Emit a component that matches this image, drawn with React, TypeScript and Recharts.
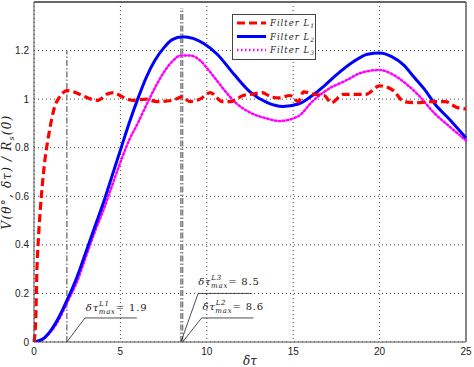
import { LineChart, Line, XAxis, YAxis, CartesianGrid, ReferenceLine, ReferenceDot, Legend } from 'recharts';

// #region Sample data
const tauL1 = [0, 0.05, 0.1, 0.17, 0.25, 0.35, 0.5, 0.65, 0.8, 1.0, 1.2, 1.4, 1.6, 1.9, 2.3, 2.8, 3.3, 3.7, 4.2, 4.6, 5.1, 5.7, 6.5, 7.1, 8.0, 8.6, 9.0, 9.6, 10.2, 10.9, 11.4, 12.1, 12.6, 13.2, 13.7, 14.2, 14.8, 15.3, 15.6, 16.2, 16.8, 17.2, 17.9, 18.7, 19.2, 20.0, 20.8, 21.4, 22.1, 23.1, 23.8, 24.5, 25];
const valL1 = [0, 0.03, 0.09, 0.3, 0.42, 0.53, 0.66, 0.76, 0.83, 0.91, 0.97, 1.0, 1.02, 1.035, 1.03, 1.015, 1.0, 0.995, 1.02, 1.027, 1.01, 0.995, 1.0, 0.99, 0.995, 1.01, 0.99, 1.0, 1.027, 0.99, 0.99, 1.015, 1.02, 1.027, 1.01, 1.005, 1.015, 0.99, 1.03, 1.02, 1.015, 0.985, 1.02, 1.02, 1.02, 1.055, 1.035, 0.99, 0.985, 0.99, 0.99, 0.965, 0.96];

const tauL2 = [0, 0.5, 1, 1.5, 1.9, 2.5, 3, 3.5, 4, 4.5, 5, 5.5, 6, 6.5, 7, 7.5, 8, 8.6, 9.2, 9.8, 10.6, 11.6, 12.5, 13.5, 14.4, 15.3, 16.1, 16.8, 17.5, 18.5, 19.3, 20, 20.7, 21.4, 22, 22.6, 23.2, 24, 25];
const valL2 = [0, 0.012, 0.05, 0.11, 0.17, 0.27, 0.37, 0.47, 0.57, 0.68, 0.79, 0.9, 1.0, 1.09, 1.16, 1.21, 1.245, 1.257, 1.25, 1.23, 1.185, 1.1, 1.03, 0.986, 0.97, 0.98, 1.015, 1.055, 1.1, 1.155, 1.185, 1.19, 1.175, 1.14, 1.09, 1.04, 0.98, 0.92, 0.84];

const tauL3 = [0, 0.5, 1, 1.5, 1.9, 2.5, 3, 3.5, 4, 4.5, 5, 5.5, 6, 6.6, 7.1, 7.6, 8, 8.5, 9.0, 9.6, 10.1, 10.6, 11.1, 11.6, 12.5, 13.5, 14.2, 15.3, 16.1, 17, 18, 19, 20, 20.8, 21.5, 22.2, 23.2, 24, 25];
const valL3 = [0, 0.01, 0.045, 0.1, 0.16, 0.25, 0.35, 0.45, 0.54, 0.64, 0.74, 0.83, 0.9, 0.99, 1.06, 1.12, 1.155, 1.18, 1.18, 1.16, 1.12, 1.075, 1.03, 0.99, 0.945, 0.92, 0.91, 0.93, 0.99, 1.04, 1.075, 1.11, 1.12, 1.1, 1.065, 1.02, 0.94, 0.89, 0.83];

const seriesSubs = ['1', '2', '3'];
const tauMaxL1 = 1.9;
const tauMaxL3 = 8.5;
const tauMaxL2 = 8.6;

const xTicks = [0, 5, 10, 15, 20, 25];
const yTicks = [0, 0.2, 0.4, 0.6, 0.8, 1, 1.2];
// #endregion

const toPoints = (xs: number[], ys: number[]) => xs.map((x, i) => ({ x, y: ys[i] }));
const dataL1 = toPoints(tauL1, valL1);
const dataL2 = toPoints(tauL2, valL2);
const dataL3 = toPoints(tauL3, valL3);

const serif = '"DejaVu Serif", "Liberation Serif", serif';
const sans = '"Liberation Sans", Arial, sans-serif';

const styles = [
  { color: '#ff0000', dash: '8 4', width: 3.2 },
  { color: '#0000ff', dash: undefined, width: 3 },
  { color: '#ff00ff', dash: '1.5 2.5', width: 2.5 },
];

const renderLegend = () => (
  <svg width={84} height={46} style={{ display: 'block' }}>
    <rect x={0.5} y={0.5} width={83} height={45} fill="#fff" stroke="#444" />
    {seriesSubs.map((s, i) => {
      const y = 9 + i * 13.5;
      return (
        <g key={s}>
          <line x1={5} x2={34} y1={y} y2={y} stroke={styles[i].color} strokeWidth={styles[i].width} strokeDasharray={styles[i].dash} />
          <text x={38} y={y + 3} fontSize={8.5} fontStyle="italic" fontFamily={serif} letterSpacing={1} fill="#222">
            Filter L<tspan fontSize={6} dy={2}>{s}</tspan>
          </text>
        </g>
      );
    })}
  </svg>
);

const Annot = ({ cx, cy, sup, value }: any) => (
  <text x={cx} y={cy} fontSize={10} fontFamily={serif} fill="#222" letterSpacing={0.8}>
    <tspan fontStyle="italic">δτ</tspan>
    <tspan fontSize={7} dy={-5} fontStyle="italic">{sup}</tspan>
    <tspan fontSize={7} dx={-11} dy={8} fontStyle="italic">max</tspan>
    <tspan dy={-3}>= {value}</tspan>
  </text>
);

const YLabel = ({ viewBox }: any) => {
  const cy = viewBox.y + viewBox.height / 2;
  return (
    <text x={11} y={cy} transform={`rotate(-90 11 ${cy})`} textAnchor="middle" fontSize={12} fontStyle="italic" fontFamily={serif} letterSpacing={1.2} fill="#222">
      V̄(θ°, δτ) / R<tspan fontSize={8} dy={3}>s</tspan><tspan dy={-3}>(0)</tspan>
    </text>
  );
};

const XLabel = ({ viewBox }: any) => (
  <text x={viewBox.x + viewBox.width / 2} y={365} textAnchor="middle" fontSize={12} fontStyle="italic" fontFamily={serif} fill="#222">
    δτ
  </text>
);

const gray = '#808080';
const guide = '6 2 1.5 2';

const App = () => {
  return (
    <div style={{ position: 'absolute', left: 0, top: 0, background: '#fff' }}>
      <LineChart width={474} height={367} margin={{ top: 2, right: 8, bottom: 0, left: 0 }}>
        <CartesianGrid stroke="#444" strokeDasharray="1 3" />
        <XAxis
          dataKey="x"
          type="number"
          domain={[0, 25]}
          ticks={xTicks}
          height={25}
          tickSize={0}
          tickMargin={6}
          stroke="#555"
          tick={{ fill: '#222', fontSize: 10, fontFamily: sans }}
          label={XLabel}
        />
        <YAxis
          type="number"
          domain={[0, 1.4]}
          ticks={yTicks}
          width={34}
          tickSize={0}
          tickMargin={5}
          stroke="#555"
          allowDataOverflow
          tick={{ fill: '#222', fontSize: 10, fontFamily: sans }}
          label={YLabel}
        />
        <ReferenceLine y={1.4} stroke="#666" strokeWidth={2} />
        <ReferenceLine x={25} stroke="#666" strokeWidth={1.5} />
        <ReferenceLine segment={[{ x: tauMaxL1, y: 0 }, { x: tauMaxL1, y: 1.2 }]} stroke={gray} strokeWidth={1.5} strokeDasharray={guide} />
        <ReferenceLine segment={[{ x: tauMaxL3, y: 0 }, { x: tauMaxL3, y: 1.375 }]} stroke={gray} strokeWidth={1.5} strokeDasharray={guide} />
        <ReferenceLine segment={[{ x: tauMaxL2, y: 0 }, { x: tauMaxL2, y: 1.375 }]} stroke={gray} strokeWidth={1.5} strokeDasharray={guide} />

        <Line data={dataL3} dataKey="y" type="monotone" stroke={styles[2].color} strokeWidth={styles[2].width} strokeDasharray={styles[2].dash} strokeLinecap="round" dot={false} isAnimationActive={false} name="Filter L3" />
        <Line data={dataL2} dataKey="y" type="monotone" stroke={styles[1].color} strokeWidth={styles[1].width} dot={false} isAnimationActive={false} name="Filter L2" />
        <Line data={dataL1} dataKey="y" type="monotone" stroke={styles[0].color} strokeWidth={styles[0].width} strokeDasharray={styles[0].dash} dot={false} isAnimationActive={false} name="Filter L1" />

        {/* leaders for the max annotations */}
        <ReferenceLine segment={[{ x: tauMaxL1, y: 0 }, { x: 2.95, y: 0.099 }]} stroke="#222" strokeWidth={0.8} />
        <ReferenceLine segment={[{ x: 2.95, y: 0.099 }, { x: 5.95, y: 0.099 }]} stroke="#222" strokeWidth={0.8} />
        <ReferenceLine segment={[{ x: tauMaxL3, y: 0 }, { x: 9.5, y: 0.2 }]} stroke="#222" strokeWidth={0.8} />
        <ReferenceLine segment={[{ x: 9.5, y: 0.2 }, { x: 12.6, y: 0.2 }]} stroke="#222" strokeWidth={0.8} />
        <ReferenceLine segment={[{ x: tauMaxL2, y: 0 }, { x: 9.7, y: 0.099 }]} stroke="#222" strokeWidth={0.8} />
        <ReferenceLine segment={[{ x: 9.7, y: 0.099 }, { x: 12.7, y: 0.099 }]} stroke="#222" strokeWidth={0.8} />
        <ReferenceDot x={3.0} y={0.127} shape={(p: any) => <Annot {...p} sup="L1" value={tauMaxL1} />} />
        <ReferenceDot x={9.5} y={0.234} shape={(p: any) => <Annot {...p} sup="L3" value={tauMaxL3} />} />
        <ReferenceDot x={9.75} y={0.13} shape={(p: any) => <Annot {...p} sup="L2" value={tauMaxL2} />} />

        <Legend content={renderLegend} layout="vertical" align="center" verticalAlign="middle" wrapperStyle={{ left: 232, top: 14, width: 84, height: 46 }} />
      </LineChart>
    </div>
  );
};

export default App;
